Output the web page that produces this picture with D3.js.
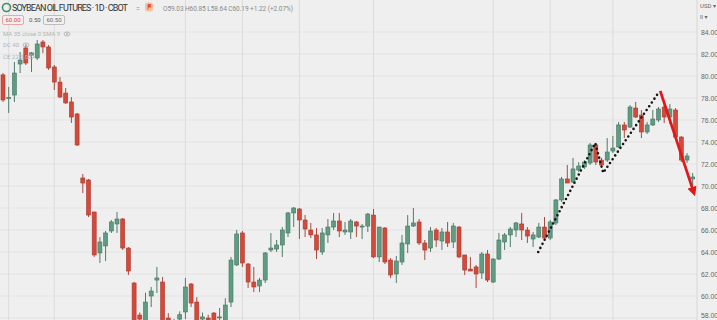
<!DOCTYPE html>
<html>
<head>
<meta charset="utf-8">
<script src="https://cdn.jsdelivr.net/npm/d3@7"></script>
<style>
  html, body { margin: 0; padding: 0; background: #efefef; }
  svg { display: block; font-family: Roboto, "DejaVu Sans", sans-serif; }
</style>
</head>
<body>
<div id="graph"></div>
<script>
// daily OHLC (oldest first)
const open = [80.1,77.95,78.27,81.09,82.55,81.9,81.64,83.09,82.64,80.82,
  79.45,78.45,77.64,76.55,70.73,70.55,67.64,63.91,64.55,65.91,
  66.55,67.0,64.36,61.18,58.27,57.6,60.0,61.45,61.27,58.0,
  56.9,57.9,58.55,61.09,59.45,57.9,58.0,58.45,58.0,57.8,
  59.45,62.82,65.73,62.91,61.27,60.91,61.45,64.18,64.27,64.64,
  65.73,67.55,67.91,66.91,66.0,65.55,64.0,65.55,66.27,66.82,
  65.82,65.82,66.73,66.27,66.36,67.36,63.55,66.18,63.27,62.0,
  63.09,64.73,66.36,66.73,64.82,64.36,66.0,65.0,65.82,64.91,
  66.27,63.73,62.45,62.64,62.09,63.82,61.27,63.36,64.91,65.55,
  66.0,66.55,66.0,65.18,65.36,66.27,65.27,66.64,68.73,70.64,
  70.36,71.45,71.73,72.09,73.73,72.36,72.36,73.18,73.55,75.55,
  75.36,77.09,76.45,74.91,75.55,76.0,77.18,76.27,76.91,74.45,
  72.36,70.64];
const high = [80.27,79.0,81.27,82.18,82.82,82.18,83.27,83.27,82.82,81.0,
  79.91,78.91,78.09,76.64,71.09,70.64,67.64,65.36,65.91,66.91,
  67.64,67.09,64.45,61.27,58.5,60.3,60.82,62.64,61.73,58.45,
  57.9,58.6,61.64,61.18,59.9,58.5,58.3,58.55,58.91,59.8,
  63.55,66.0,65.91,63.0,62.64,61.64,64.0,65.73,65.09,66.27,
  67.64,68.09,68.0,67.36,66.64,66.18,66.18,67.0,67.55,67.55,
  66.73,67.0,66.82,66.55,67.55,67.91,66.27,66.27,63.45,63.64,
  65.55,67.36,68.0,67.0,65.09,66.27,66.18,66.18,66.73,66.64,
  66.36,63.73,63.55,62.82,64.0,64.18,63.45,65.73,65.73,66.27,
  66.73,67.55,66.27,65.82,66.64,67.18,66.91,68.82,70.82,71.91,
  72.55,72.18,72.36,73.91,73.91,72.55,74.36,74.55,75.82,75.82,
  77.36,77.64,76.91,75.82,76.91,77.18,77.36,77.45,77.09,74.55,
  73.0,71.18];
const low = [77.64,76.64,77.64,80.27,81.0,80.36,81.45,82.09,80.55,78.73,
  78.0,77.45,75.73,73.64,69.36,67.18,63.55,63.0,63.18,65.73,
  65.73,64.18,61.91,56.5,57.3,57.3,59.0,60.27,57.0,56.8,
  56.6,57.7,57.9,59.0,57.5,57.5,57.4,57.5,57.6,57.5,
  59.0,62.73,62.64,60.73,60.36,60.36,61.18,64.0,64.0,63.55,
  65.36,66.27,65.18,65.36,65.27,63.36,63.73,64.82,66.0,65.36,
  65.55,65.18,65.36,65.18,65.82,63.45,63.09,62.91,61.64,61.18,
  62.82,63.91,66.27,64.64,63.27,64.0,64.45,64.18,64.45,64.36,
  63.45,61.91,62.27,60.73,61.55,61.27,61.18,63.27,64.18,64.45,
  65.36,65.09,64.82,64.45,65.27,65.09,65.09,66.45,68.55,70.27,
  70.27,71.27,71.55,71.91,71.91,71.64,72.18,73.0,73.45,74.36,
  75.27,76.18,74.36,74.73,75.45,75.82,75.73,75.64,74.27,72.18,
  72.09,70.09];
const close = [77.82,78.05,80.27,81.45,81.18,82.1,82.91,82.64,80.73,79.45,
  78.09,77.55,76.27,73.73,70.27,67.36,63.73,64.91,65.73,66.73,
  67.0,64.36,62.27,56.91,57.9,59.45,60.45,61.64,57.5,57.3,
  57.5,58.3,60.82,59.36,57.8,58.1,57.8,57.8,58.1,59.18,
  63.27,65.64,63.0,61.27,60.82,61.45,63.91,64.36,64.64,66.0,
  67.55,68.0,66.91,66.09,65.55,64.18,65.73,66.27,66.82,65.91,
  66.0,66.82,66.36,66.36,67.45,63.55,66.27,63.09,61.91,63.18,
  64.82,66.36,66.64,64.82,64.18,65.91,65.09,65.82,64.82,66.36,
  63.55,62.36,62.27,62.0,63.82,61.45,63.36,65.09,65.55,66.09,
  66.64,66.0,65.45,65.55,66.27,65.27,66.73,68.73,70.64,70.27,
  71.55,71.82,72.18,73.73,72.18,71.91,73.09,73.45,75.55,75.09,
  77.18,76.27,74.91,75.55,76.09,77.0,76.27,77.0,74.45,72.36,
  72.73,70.82];

// price axis labels
const priceTicks = [84,82,80,78,76,74,72,70,68,66,64,62,60,58];
// bars where the date grid lines fall
const dateMarks = [1, 9, 32, 42, 52, 65, 86, 96, 107];

// hand drawn annotations: [bar index, price]
const dottedPath = [[93.9, 64.0], [103.9, 73.9], [105.3, 71.2], [115.1, 78.55]];
const redArrow = [[115.3, 78.65], [121.2, 69.4]];

const width = 717, height = 320, plotRight = 697;

const svg = d3.select("#graph")
  .append("svg")
    .attr("width", width)
    .attr("height", height);

svg.append("rect").attr("width", width).attr("height", height).attr("fill", "#efefef");

const x = d3.scaleLinear().domain([0, open.length - 1]).range([3, 692.7]);
const y = d3.scaleLinear().domain([58, 84]).range([318, 32]);

svg.append("clipPath").attr("id", "plot")
  .append("rect").attr("width", plotRight).attr("height", height);

const plot = svg.append("g").attr("clip-path", "url(#plot)");

// grid
plot.selectAll(".hgrid")
  .data(priceTicks)
  .join("line")
    .attr("x1", 0).attr("x2", plotRight)
    .attr("y1", d => y(d)).attr("y2", d => y(d))
    .attr("stroke", "#e3e3e3");

plot.selectAll(".vgrid")
  .data(dateMarks)
  .join("line")
    .attr("x1", d => x(d)).attr("x2", d => x(d))
    .attr("y1", 0).attr("y2", height)
    .attr("stroke", "#dcdcdc");

// candles
const bars = open.map((o, i) => ({i, o, h: high[i], l: low[i], c: close[i]}));
const up = d => d.c >= d.o;

const candle = plot.selectAll(".candle")
  .data(bars)
  .join("g");

candle.append("line")
  .attr("x1", d => x(d.i)).attr("x2", d => x(d.i))
  .attr("y1", d => y(d.h)).attr("y2", d => y(d.l))
  .attr("stroke", d => up(d) ? "#4e7d68" : "#a94a3f")
  .attr("stroke-width", 1);

candle.append("rect")
  .attr("x", d => x(d.i) - 2)
  .attr("y", d => y(Math.max(d.o, d.c)))
  .attr("width", 4)
  .attr("height", d => Math.max(1, Math.abs(y(d.o) - y(d.c))))
  .attr("fill", d => up(d) ? "#5f9d82" : "#d4493a")
  .attr("stroke", d => up(d) ? "#467462" : "#a8392e")
  .attr("stroke-width", 0.6);

// dotted trend line
const line = d3.line().x(d => x(d[0])).y(d => y(d[1]));
plot.append("path")
  .attr("d", line(dottedPath))
  .attr("fill", "none")
  .attr("stroke", "#151515")
  .attr("stroke-width", 2.6)
  .attr("stroke-linecap", "round")
  .attr("stroke-dasharray", "0 4.6");

// red arrow
svg.append("defs").append("marker")
  .attr("id", "head")
  .attr("viewBox", "0 0 10 10")
  .attr("refX", 6).attr("refY", 5)
  .attr("markerWidth", 3.4).attr("markerHeight", 3.4)
  .attr("orient", "auto")
  .append("path").attr("d", "M0,0L10,5L0,10z").attr("fill", "#e0191b");

plot.append("path")
  .attr("d", line(redArrow))
  .attr("fill", "none")
  .attr("stroke", "#e0191b")
  .attr("stroke-width", 2.8)
  .attr("marker-end", "url(#head)");

// price axis
svg.append("line")
  .attr("x1", plotRight).attr("x2", plotRight)
  .attr("y1", 0).attr("y2", height)
  .attr("stroke", "#d6d6d6");

const yAxis = svg.append("g")
  .attr("transform", `translate(${plotRight + 3},0)`)
  .call(d3.axisRight(y).tickValues(priceTicks).tickFormat(d3.format(".2f")).tickSize(0).tickPadding(1));
yAxis.select(".domain").remove();
yAxis.selectAll("text").attr("fill", "#666").attr("font-size", 6.8);
// keep the lowest label inside the frame
yAxis.selectAll(".tick").filter(d => d === 58).select("text").attr("dy", "-0.05em");

svg.append("text").attr("x", 700).attr("y", 8)
  .attr("font-size", 6).attr("fill", "#666").text("USD ▾");
svg.append("text").attr("x", 700).attr("y", 19)
  .attr("font-size", 6).attr("fill", "#666").text("ll ▾");

// header
svg.append("circle").attr("cx", 6.5).attr("cy", 7.5).attr("r", 4)
  .attr("fill", "none").attr("stroke", "#3f8f6a").attr("stroke-width", 1.6);
svg.append("text").attr("x", 12).attr("y", 11)
  .attr("font-size", 9).attr("fill", "#333").attr("textLength", 116)
  .text("SOYBEAN OIL FUTURES · 1D · CBOT");
svg.append("text").attr("x", 136).attr("y", 10.5)
  .attr("font-size", 7).attr("fill", "#888").text("=");
svg.append("rect").attr("x", 145).attr("y", 2.5).attr("width", 8).attr("height", 9).attr("rx", 2.5)
  .attr("fill", "#f6c3a0");
svg.append("path").attr("d", "M148,4.5 v5 M148,4.5 h3 l-1,1.3 l1,1.3 h-3")
  .attr("fill", "#e24a3b").attr("stroke", "#e24a3b").attr("stroke-width", 0.8);
svg.append("text").attr("x", 163).attr("y", 10.5)
  .attr("font-size", 6.5).attr("fill", "#8a8a8a").attr("textLength", 130)
  .text("O59.03 H60.85 L58.64 C60.19 +1.22 (+2.07%)");

svg.append("rect").attr("x", 2.5).attr("y", 15.5).attr("width", 21).attr("height", 9).attr("rx", 1.5)
  .attr("fill", "#f4eeee").attr("stroke", "#e08a8a").attr("stroke-width", 0.7);
svg.append("text").attr("x", 13).attr("y", 22.3).attr("text-anchor", "middle")
  .attr("font-size", 6).attr("fill", "#d44").text("60.00");
svg.append("text").attr("x", 29).attr("y", 22.3)
  .attr("font-size", 6).attr("fill", "#555").text("0.50");
svg.append("rect").attr("x", 43.5).attr("y", 15.5).attr("width", 21).attr("height", 9).attr("rx", 1.5)
  .attr("fill", "#f1f1f1").attr("stroke", "#a8a8a8").attr("stroke-width", 0.7);
svg.append("text").attr("x", 54).attr("y", 22.3).attr("text-anchor", "middle")
  .attr("font-size", 6).attr("fill", "#666").text("60.50");

const legend = [["MA 35 close 0 SMA 9", 36, 67], ["DC 40", 47, 26], ["CE 22 3.0", 58.5, 31]];
legend.forEach(([t, ty, ex]) => {
  svg.append("text").attr("x", 3).attr("y", ty)
    .attr("font-size", 6).attr("fill", "#b4b4b4").text(t);
  svg.append("ellipse").attr("cx", ex).attr("cy", ty - 2).attr("rx", 3).attr("ry", 2)
    .attr("fill", "none").attr("stroke", "#aaa").attr("stroke-width", 0.8);
  svg.append("circle").attr("cx", ex).attr("cy", ty - 2).attr("r", 0.9).attr("fill", "#aaa");
});
</script>
</body>
</html>
